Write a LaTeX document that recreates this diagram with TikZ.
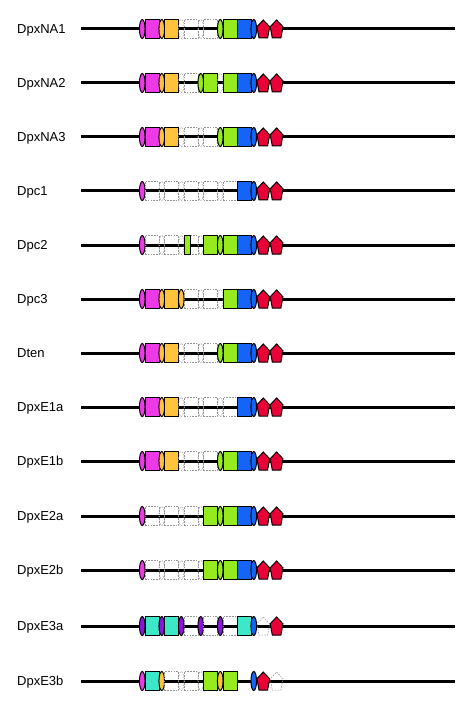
\documentclass[tikz,border=0pt]{standalone}
\usepackage{fontspec}
\setmainfont{Liberation Sans}
\usetikzlibrary{shapes.geometric}
\definecolor{cM}{RGB}{238,58,230}
\definecolor{cY}{RGB}{255,196,60}
\definecolor{cG}{RGB}{150,235,30}
\definecolor{cB}{RGB}{20,100,245}
\definecolor{cR}{RGB}{232,0,55}
\definecolor{cP}{RGB}{140,20,220}
\definecolor{cT}{RGB}{60,232,200}
\tikzset{
  base/.style={draw=black, line width=1pt},
  el/.style={ellipse, minimum width=5.6pt, minimum height=19pt, inner sep=0pt, outer sep=0pt},
  rc/.style={rectangle, minimum width=14pt, minimum height=19pt, inner sep=0pt, outer sep=0pt},
  dm/.style={base, fill=cM},
  dy/.style={base, fill=cY},
  dg/.style={base, fill=cG},
  db/.style={base, fill=cB},
  dr/.style={base, fill=cR},
  dp/.style={base, fill=cP},
  dt/.style={base, fill=cT},
  dd/.style={draw=gray!85, dash pattern=on 1.6pt off 1.2pt, line width=0.5pt},
  sty/.style={#1},
  bb/.style={line width=3pt, black},
  lbl/.style={anchor=base west, font=\fontsize{13}{15}\selectfont, inner sep=0pt},
}
\def\xEa{142.25}\def\xEb{161.75}\def\xEc{181.25}\def\xEd{200.75}\def\xEe{220.25}\def\xEf{253.75}
\def\xRa{152}\def\xRb{171.5}\def\xRc{191}\def\xRd{210.5}\def\xRe{230}\def\xRf{244}
\def\xPa{263.3}\def\xPb{276.6}
\def\xSc{187.3}
\newcommand\domE[4]{\node[el,sty/.expand once=#3] (#4) at (\csname xE#2\endcsname,#1) {};}
\newcommand\domR[4]{\node[rc,sty/.expand once=#3] (#4) at (\csname xR#2\endcsname,#1) {};}
\newcommand\domS[4]{\node[rc,minimum width=6pt,sty/.expand once=#3] (#4) at (\csname xS#2\endcsname,#1) {};}
\newcommand\domP[4]{\coordinate (#4) at (\csname xP#2\endcsname,#1);
  \draw[sty/.expand once=#3, line join=miter] ([shift={(0,-9)}]#4) -- ([shift={(6.4,-2.2)}]#4) -- ([shift={(4.3,9)}]#4) -- ([shift={(-4.3,9)}]#4) -- ([shift={(-6.4,-2.2)}]#4) -- cycle;}
\newcommand\domrow[3]{%
  \node[lbl] (L#2) at (17,#1+4.6) {#2};
  \coordinate (A#2) at (81,#1);
  \coordinate (B#2) at (455,#1);
  \draw[bb] (A#2) -- (B#2);
  \foreach \ty/\ps/\st [count=\n] in {#3} {\csname dom\ty\endcsname{#1}{\ps}{\st}{#2-\n}}
}
\begin{document}
\begin{tikzpicture}[x=1pt,y=-1pt]
\path[fill=white] (0,0) rectangle (474,711);
\useasboundingbox (0,0) rectangle (474,711);
\domrow{29}{DpxNA1}{E/a/dm, R/a/dm, E/b/dy, R/b/dy, E/c/dd, R/c/dd, E/d/dd, R/d/dd, E/e/dg, R/e/dg, R/f/db, E/f/db, P/a/dr, P/b/dr}
\domrow{83}{DpxNA2}{E/a/dm, R/a/dm, E/b/dy, R/b/dy, E/c/dd, R/c/dd, E/d/dg, R/d/dg, E/e/dd, R/e/dg, R/f/db, E/f/db, P/a/dr, P/b/dr}
\domrow{137}{DpxNA3}{E/a/dm, R/a/dm, E/b/dy, R/b/dy, E/c/dd, R/c/dd, E/d/dd, R/d/dd, E/e/dg, R/e/dg, R/f/db, E/f/db, P/a/dr, P/b/dr}
\domrow{191}{Dpc1}{E/a/dm, R/a/dd, E/b/dd, R/b/dd, E/c/dd, R/c/dd, E/d/dd, R/d/dd, E/e/dd, R/e/dd, R/f/db, E/f/db, P/a/dr, P/b/dr}
\domrow{245}{Dpc2}{E/a/dm, R/a/dd, E/b/dd, R/b/dd, E/c/dd, R/c/dd, S/c/dg, E/d/dd, R/d/dg, E/e/dg, R/e/dg, R/f/db, E/f/db, P/a/dr, P/b/dr}
\domrow{299}{Dpc3}{E/a/dm, R/a/dm, E/b/dy, R/b/dy, E/c/dy, R/c/dd, E/d/dd, R/d/dd, E/e/dd, R/e/dg, R/f/db, E/f/db, P/a/dr, P/b/dr}
\domrow{353}{Dten}{E/a/dm, R/a/dm, E/b/dy, R/b/dy, E/c/dd, R/c/dd, E/d/dd, R/d/dd, E/e/dg, R/e/dg, R/f/db, E/f/db, P/a/dr, P/b/dr}
\domrow{407}{DpxE1a}{E/a/dm, R/a/dm, E/b/dy, R/b/dy, E/c/dd, R/c/dd, E/d/dd, R/d/dd, E/e/dd, R/e/dd, R/f/db, E/f/db, P/a/dr, P/b/dr}
\domrow{461}{DpxE1b}{E/a/dm, R/a/dm, E/b/dy, R/b/dy, E/c/dd, R/c/dd, E/d/dd, R/d/dd, E/e/dg, R/e/dg, R/f/db, E/f/db, P/a/dr, P/b/dr}
\domrow{516}{DpxE2a}{E/a/dm, R/a/dd, E/b/dd, R/b/dd, E/c/dd, R/c/dd, E/d/dd, R/d/dg, E/e/dg, R/e/dg, R/f/db, E/f/db, P/a/dr, P/b/dr}
\domrow{570}{DpxE2b}{E/a/dm, R/a/dd, E/b/dd, R/b/dd, E/c/dd, R/c/dd, E/d/dd, R/d/dg, E/e/dg, R/e/dg, R/f/db, E/f/db, P/a/dr, P/b/dr}
\domrow{626}{DpxE3a}{E/a/dp, R/a/dt, E/b/dp, R/b/dt, E/c/dp, R/c/dd, E/d/dp, R/d/dd, E/e/dp, R/e/dd, R/f/dt, E/f/db, P/a/dd, P/b/dr}
\domrow{681}{DpxE3b}{E/a/dm, R/a/dt, E/b/dy, R/b/dd, E/c/dd, R/c/dd, E/d/dd, R/d/dg, E/e/dy, R/e/dg, E/f/db, P/a/dr, P/b/dd}
\end{tikzpicture}
\end{document}
